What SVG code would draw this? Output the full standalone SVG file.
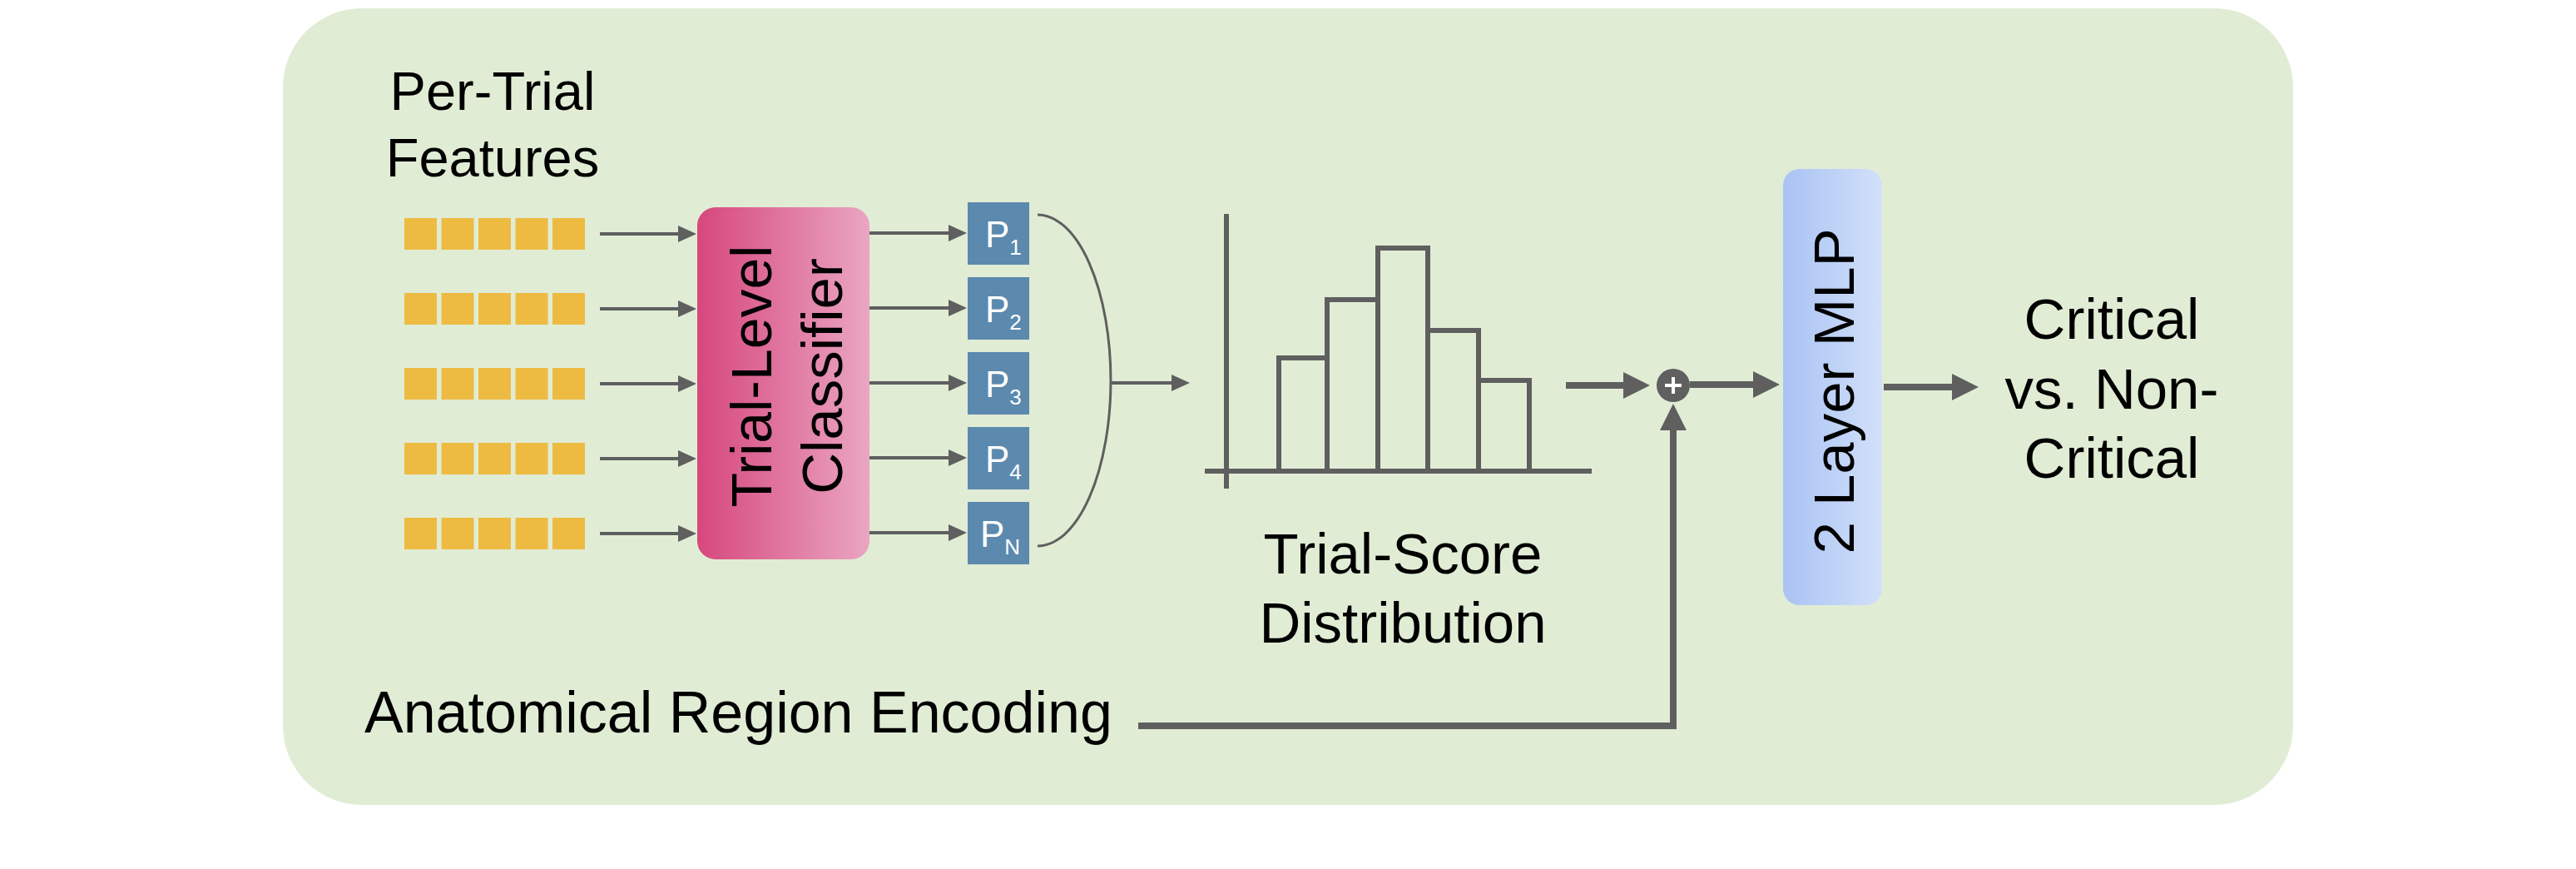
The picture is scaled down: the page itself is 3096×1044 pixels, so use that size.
<svg xmlns="http://www.w3.org/2000/svg" width="3096" height="1044" viewBox="0 0 3096 1044">
<style>
.t{font-family:"Liberation Sans",Arial,Helvetica,sans-serif;fill:#000;}
.c{text-anchor:middle;}
.feat{fill:#EEBB42;}
.pb{fill:#5C89AE;}
.pl{font-family:"Liberation Sans",Arial,sans-serif;fill:#fff;}
.ln{stroke:#5F5F5F;fill:none;}
.s{stroke-width:4;}
.k{stroke-width:8;}
.h{stroke:#5F5F5F;stroke-width:6;fill:none;}
</style>
<defs>
<marker id="as" markerUnits="userSpaceOnUse" markerWidth="22" markerHeight="20" refX="2" refY="10" orient="auto"><path d="M0,0 L22,10 L0,20 z" fill="#5F5F5F"/></marker>
<marker id="al" markerUnits="userSpaceOnUse" markerWidth="32" markerHeight="32" refX="2" refY="16" orient="auto"><path d="M0,0 L32,16 L0,32 z" fill="#5F5F5F"/></marker>
<linearGradient id="gc" x1="0" y1="0" x2="1" y2="0"><stop offset="0" stop-color="#D6477D"/><stop offset="1" stop-color="#EAA6C2"/></linearGradient>
<linearGradient id="gm" x1="0" y1="0" x2="1" y2="0"><stop offset="0" stop-color="#A9C3F4"/><stop offset="1" stop-color="#D2E0F9"/></linearGradient>
</defs>
<rect x="340" y="10" width="2416" height="957" rx="95" ry="95" fill="#E1ECD5"/>

<g id="features">
<text class="t c" x="592" y="132" font-size="65">Per-Trial</text>
<text class="t c" x="592" y="212" font-size="65">Features</text>
<g class="feat">
<rect x="486" y="262" width="39" height="38"/><rect x="530.5" y="262" width="39" height="38"/><rect x="575" y="262" width="39" height="38"/><rect x="619.5" y="262" width="39" height="38"/><rect x="664" y="262" width="39" height="38"/>
<rect x="486" y="352" width="39" height="38"/><rect x="530.5" y="352" width="39" height="38"/><rect x="575" y="352" width="39" height="38"/><rect x="619.5" y="352" width="39" height="38"/><rect x="664" y="352" width="39" height="38"/>
<rect x="486" y="442" width="39" height="38"/><rect x="530.5" y="442" width="39" height="38"/><rect x="575" y="442" width="39" height="38"/><rect x="619.5" y="442" width="39" height="38"/><rect x="664" y="442" width="39" height="38"/>
<rect x="486" y="532" width="39" height="38"/><rect x="530.5" y="532" width="39" height="38"/><rect x="575" y="532" width="39" height="38"/><rect x="619.5" y="532" width="39" height="38"/><rect x="664" y="532" width="39" height="38"/>
<rect x="486" y="622" width="39" height="38"/><rect x="530.5" y="622" width="39" height="38"/><rect x="575" y="622" width="39" height="38"/><rect x="619.5" y="622" width="39" height="38"/><rect x="664" y="622" width="39" height="38"/>
</g>
</g>

<g id="classifier">
<rect x="838" y="249" width="207" height="423" rx="22" ry="22" fill="url(#gc)"/>
<text class="t c" font-size="68" transform="translate(927,452) rotate(-90)">Trial-Level</text>
<text class="t c" font-size="69" transform="translate(1012,452) rotate(-90)">Classifier</text>
</g>

<g id="scores">
<rect class="pb" x="1163" y="243" width="74" height="75"/>
<rect class="pb" x="1163" y="333" width="74" height="75"/>
<rect class="pb" x="1163" y="423" width="74" height="75"/>
<rect class="pb" x="1163" y="513" width="74" height="75"/>
<rect class="pb" x="1163" y="603" width="74" height="75"/>
<text class="pl" x="1184" y="297" font-size="44">P<tspan font-size="26" dy="9">1</tspan></text>
<text class="pl" x="1184" y="387" font-size="44">P<tspan font-size="26" dy="9">2</tspan></text>
<text class="pl" x="1184" y="477" font-size="44">P<tspan font-size="26" dy="9">3</tspan></text>
<text class="pl" x="1184" y="567" font-size="44">P<tspan font-size="26" dy="9">4</tspan></text>
<text class="pl" x="1178" y="657" font-size="44">P<tspan font-size="26" dy="9">N</tspan></text>
</g>

<g id="histogram">
<path class="h" d="M1474,257 V587 M1448,566 H1913"/>
<rect class="h" x="1537" y="430" width="58" height="136"/>
<rect class="h" x="1595" y="360" width="61" height="206"/>
<rect class="h" x="1656" y="298" width="60" height="268"/>
<rect class="h" x="1716" y="397" width="61" height="169"/>
<rect class="h" x="1777" y="457" width="61" height="109"/>
<text class="t c" x="1686" y="689" font-size="69">Trial-Score</text>
<text class="t c" x="1686" y="772" font-size="69">Distribution</text>
</g>

<g id="sum">
<circle cx="2011" cy="463" r="20" fill="#5F5F5F"/>
<path d="M2001,463 H2021 M2011,453 V473" stroke="#fff" stroke-width="4" fill="none"/>
</g>

<g id="mlp">
<rect x="2143" y="203" width="119" height="524" rx="20" ry="20" fill="url(#gm)"/>
<text class="t c" font-size="69" transform="translate(2228,470) rotate(-90)">2 Layer MLP</text>
</g>

<g id="output">
<text class="t c" x="2538" y="407" font-size="69">Critical</text>
<text class="t c" x="2538" y="491" font-size="69">vs. Non-</text>
<text class="t c" x="2538" y="574" font-size="69">Critical</text>
</g>

<g id="region">
<text class="t" x="438" y="880" font-size="70">Anatomical Region Encoding</text>
</g>

<g id="connectors">
<path class="ln s" marker-end="url(#as)" d="M721,281 H817"/>
<path class="ln s" marker-end="url(#as)" d="M721,371 H817"/>
<path class="ln s" marker-end="url(#as)" d="M721,461 H817"/>
<path class="ln s" marker-end="url(#as)" d="M721,551 H817"/>
<path class="ln s" marker-end="url(#as)" d="M721,641 H817"/>
<path class="ln s" marker-end="url(#as)" d="M1045,280 H1142"/>
<path class="ln s" marker-end="url(#as)" d="M1045,370 H1142"/>
<path class="ln s" marker-end="url(#as)" d="M1045,460 H1142"/>
<path class="ln s" marker-end="url(#as)" d="M1045,550 H1142"/>
<path class="ln s" marker-end="url(#as)" d="M1045,640 H1142"/>
<path class="ln" stroke-width="3" d="M1247,258 A88,199 0 0 1 1247,656"/>
<path class="ln s" marker-end="url(#as)" d="M1336,460 H1410"/>
<path class="ln k" marker-end="url(#al)" d="M1882,463 H1953"/>
<path class="ln k" marker-end="url(#al)" d="M2031,462 H2109"/>
<path class="ln k" marker-end="url(#al)" d="M2264,465 H2348"/>
<path class="ln k" marker-end="url(#al)" d="M1368,872 H2011 V515"/>
</g>
</svg>
